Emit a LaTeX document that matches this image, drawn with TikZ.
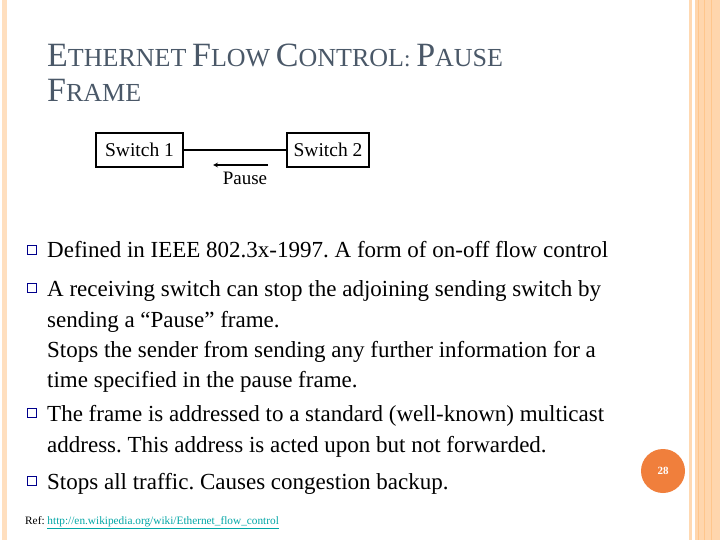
\documentclass[tikz,border=0pt]{standalone}
\usepackage{fontspec}
\setmainfont{Liberation Serif}
\frenchspacing
\begin{document}
\begin{tikzpicture}[x=1pt,y=-1pt,
  txt/.style={anchor=base west,inner sep=0pt,font=\fontsize{23}{26}\selectfont},
  sw/.style={draw,line width=1.6pt,minimum height=34pt,inner sep=0pt,font=\fontsize{19.5}{22}\selectfont},
  bul/.style={draw=blue!55!black,line width=1.4pt,minimum size=9.5pt,inner sep=0pt}]
\useasboundingbox (0,0) rectangle (720,540);
\fill[white] (0,0) rectangle (720,540);
% borders
\fill[orange!25] (2,0) rectangle (7,540);
\fill[orange!30] (689,0) rectangle (692,540);
\fill[orange!32] (695,0) rectangle (720,540);
\foreach \x in {698,704,711} \draw[orange!45,line width=1pt] (\x,0) -- (\x,540);
% title
\definecolor{tcol}{HTML}{4A5868}
\newcommand\BC[1]{{\fontsize{34}{37}\selectfont #1}}
\newcommand\SC[1]{{\fontsize{26}{29}\selectfont #1}}
\node[txt,text=tcol] (t1) at (47,67) {\BC{E}\SC{THERNET} \BC{F}\SC{LOW} \BC{C}\SC{ONTROL}: \BC{P}\SC{AUSE}};
\node[txt,text=tcol] (t2) at (47,102) {\BC{F}\SC{RAME}};
% diagram
\node[sw,minimum width=87pt] (s1) at (139.5,150) {Switch 1};
\node[sw,minimum width=82pt] (s2) at (328,150) {Switch 2};
\draw[line width=1.6pt] (s1) -- (s2);
\coordinate (a1) at (268,165); \coordinate (a2) at (213,165);
\draw[-stealth,line width=1.2pt] (a1) -- (a2);
\node[anchor=base,inner sep=0pt,font=\fontsize{19}{22}\selectfont] (p) at (245,185) {Pause};
% bullets
\foreach \y in {250,288,413,481} \node[bul] at (32,\y) {};
\node[txt] (b1) at (47,258) {Defined in IEEE 802.3x-1997. A form of on-off flow control};
\node[txt] (b2) at (47,296) {A receiving switch can stop the adjoining sending switch by};
\node[txt] (b3) at (47,327) {sending a “Pause” frame.};
\node[txt] (b4) at (47,357) {Stops the sender from sending any further information for a};
\node[txt] (b5) at (47,387) {time specified in the pause frame.};
\node[txt] (b6) at (47,421) {The frame is addressed to a standard (well-known) multicast};
\node[txt] (b7) at (47,452) {address. This address is acted upon but not forwarded.};
\node[txt] (b8) at (47,489) {Stops all traffic. Causes congestion backup.};
% ref
\node[anchor=base west,inner sep=0pt,font=\fontsize{11.3}{13}\selectfont] (r) at (25,524) {Ref: \textcolor{teal!70!cyan}{\underline{http://en.wikipedia.org/wiki/Ethernet\_flow\_control}}};
% page number
\definecolor{pn}{HTML}{F07F3C}
\node[circle,fill=pn,minimum size=44pt,inner sep=0pt,text=white,font=\fontsize{11}{12}\selectfont\bfseries] (n) at (663,471) {28};
\end{tikzpicture}
\end{document}
